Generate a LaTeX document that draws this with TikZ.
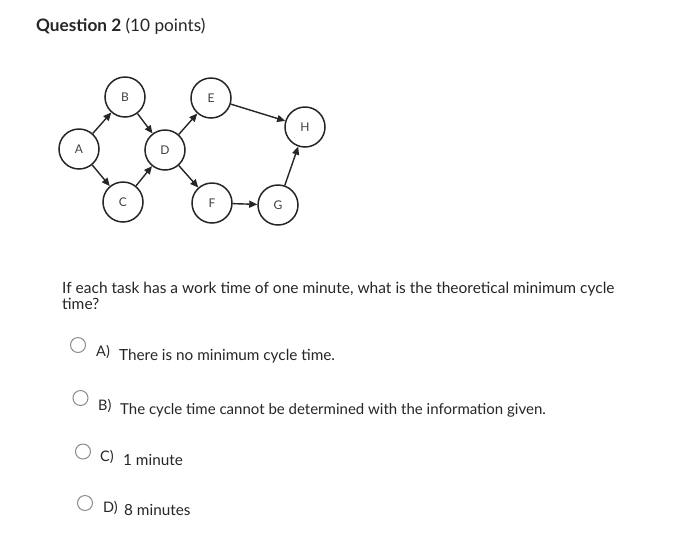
\documentclass[tikz,border=0pt]{standalone}
\usepackage{fontspec}
\setmainfont{Lato}
\usetikzlibrary{arrows.meta}
\begin{document}
\begin{tikzpicture}[x=1pt,y=-1pt,
  task/.style={circle,draw=black!85,line width=1.5pt,minimum size=40pt,inner sep=0pt,font=\fontsize{12}{14}\selectfont,text=black!75},
  flow/.style={draw=black!85,line width=1.4pt,-{Triangle[length=8pt,width=7pt]}},
  radio/.style={circle,draw=black!45,line width=1pt,fill=white,minimum size=15pt,inner sep=0pt},
  txt/.style={anchor=base west,inner sep=0pt,text=black!85,font=\fontsize{15.3}{18}\selectfont},
  lbl/.style={anchor=base west,inner sep=0pt,text=black!85,font=\fontsize{14.5}{17}\selectfont}]
\fill[white] (0,0) rectangle (700,547);
\useasboundingbox (0,0) rectangle (700,547);
% title
\node[anchor=base west,inner sep=0pt,text=black!85,font=\fontsize{17.2}{20}\selectfont] (title) at (36,31) {\textbf{Question 2} (10 points)};
% graph
\node[task] (A) at (79,149) {A};
\node[task] (B) at (125,97) {B};
\node[task] (C) at (123,202) {C};
\node[task] (D) at (165,150) {D};
\node[task] (E) at (211,98) {E};
\node[task] (F) at (212,203) {F};
\node[task] (G) at (278,205) {G};
\node[task] (H) at (305,127) {H};
\draw[flow] (A) -- (B);
\draw[flow] (A) -- (C);
\draw[flow] (B) -- (D);
\draw[flow] (C) -- (D);
\draw[flow] (D) -- (E);
\draw[flow] (D) -- (F);
\draw[flow] (E) -- (H);
\draw[flow] (F) -- (G);
\draw[flow] (G) -- (H);
% question
\node[txt,font=\fontsize{15.5}{18}\selectfont] (q1) at (62,293) {If each task has a work time of one minute, what is the theoretical minimum cycle};
\node[txt,font=\fontsize{15.5}{18}\selectfont] (q2) at (62,309) {time?};
% options
\node[radio] (ra) at (78,345) {};
\node[lbl] (la) at (96,356.5) {A)};
\node[txt] (ta) at (119,360) {There is no minimum cycle time.};
\node[radio] (rb) at (80.5,398) {};
\node[lbl] (lb) at (98,410) {B)};
\node[txt,font=\fontsize{15}{18}\selectfont] (tb) at (120,414) {The cycle time cannot be determined with the information given.};
\node[radio] (rc) at (83,451.5) {};
\node[lbl] (lc) at (100,461) {C)};
\node[txt] (tc) at (123,465) {1 minute};
\node[radio] (rd) at (85,503) {};
\node[lbl] (ld) at (103,512) {D)};
\node[txt] (td) at (124,515.5) {8 minutes};
\end{tikzpicture}
\end{document}
